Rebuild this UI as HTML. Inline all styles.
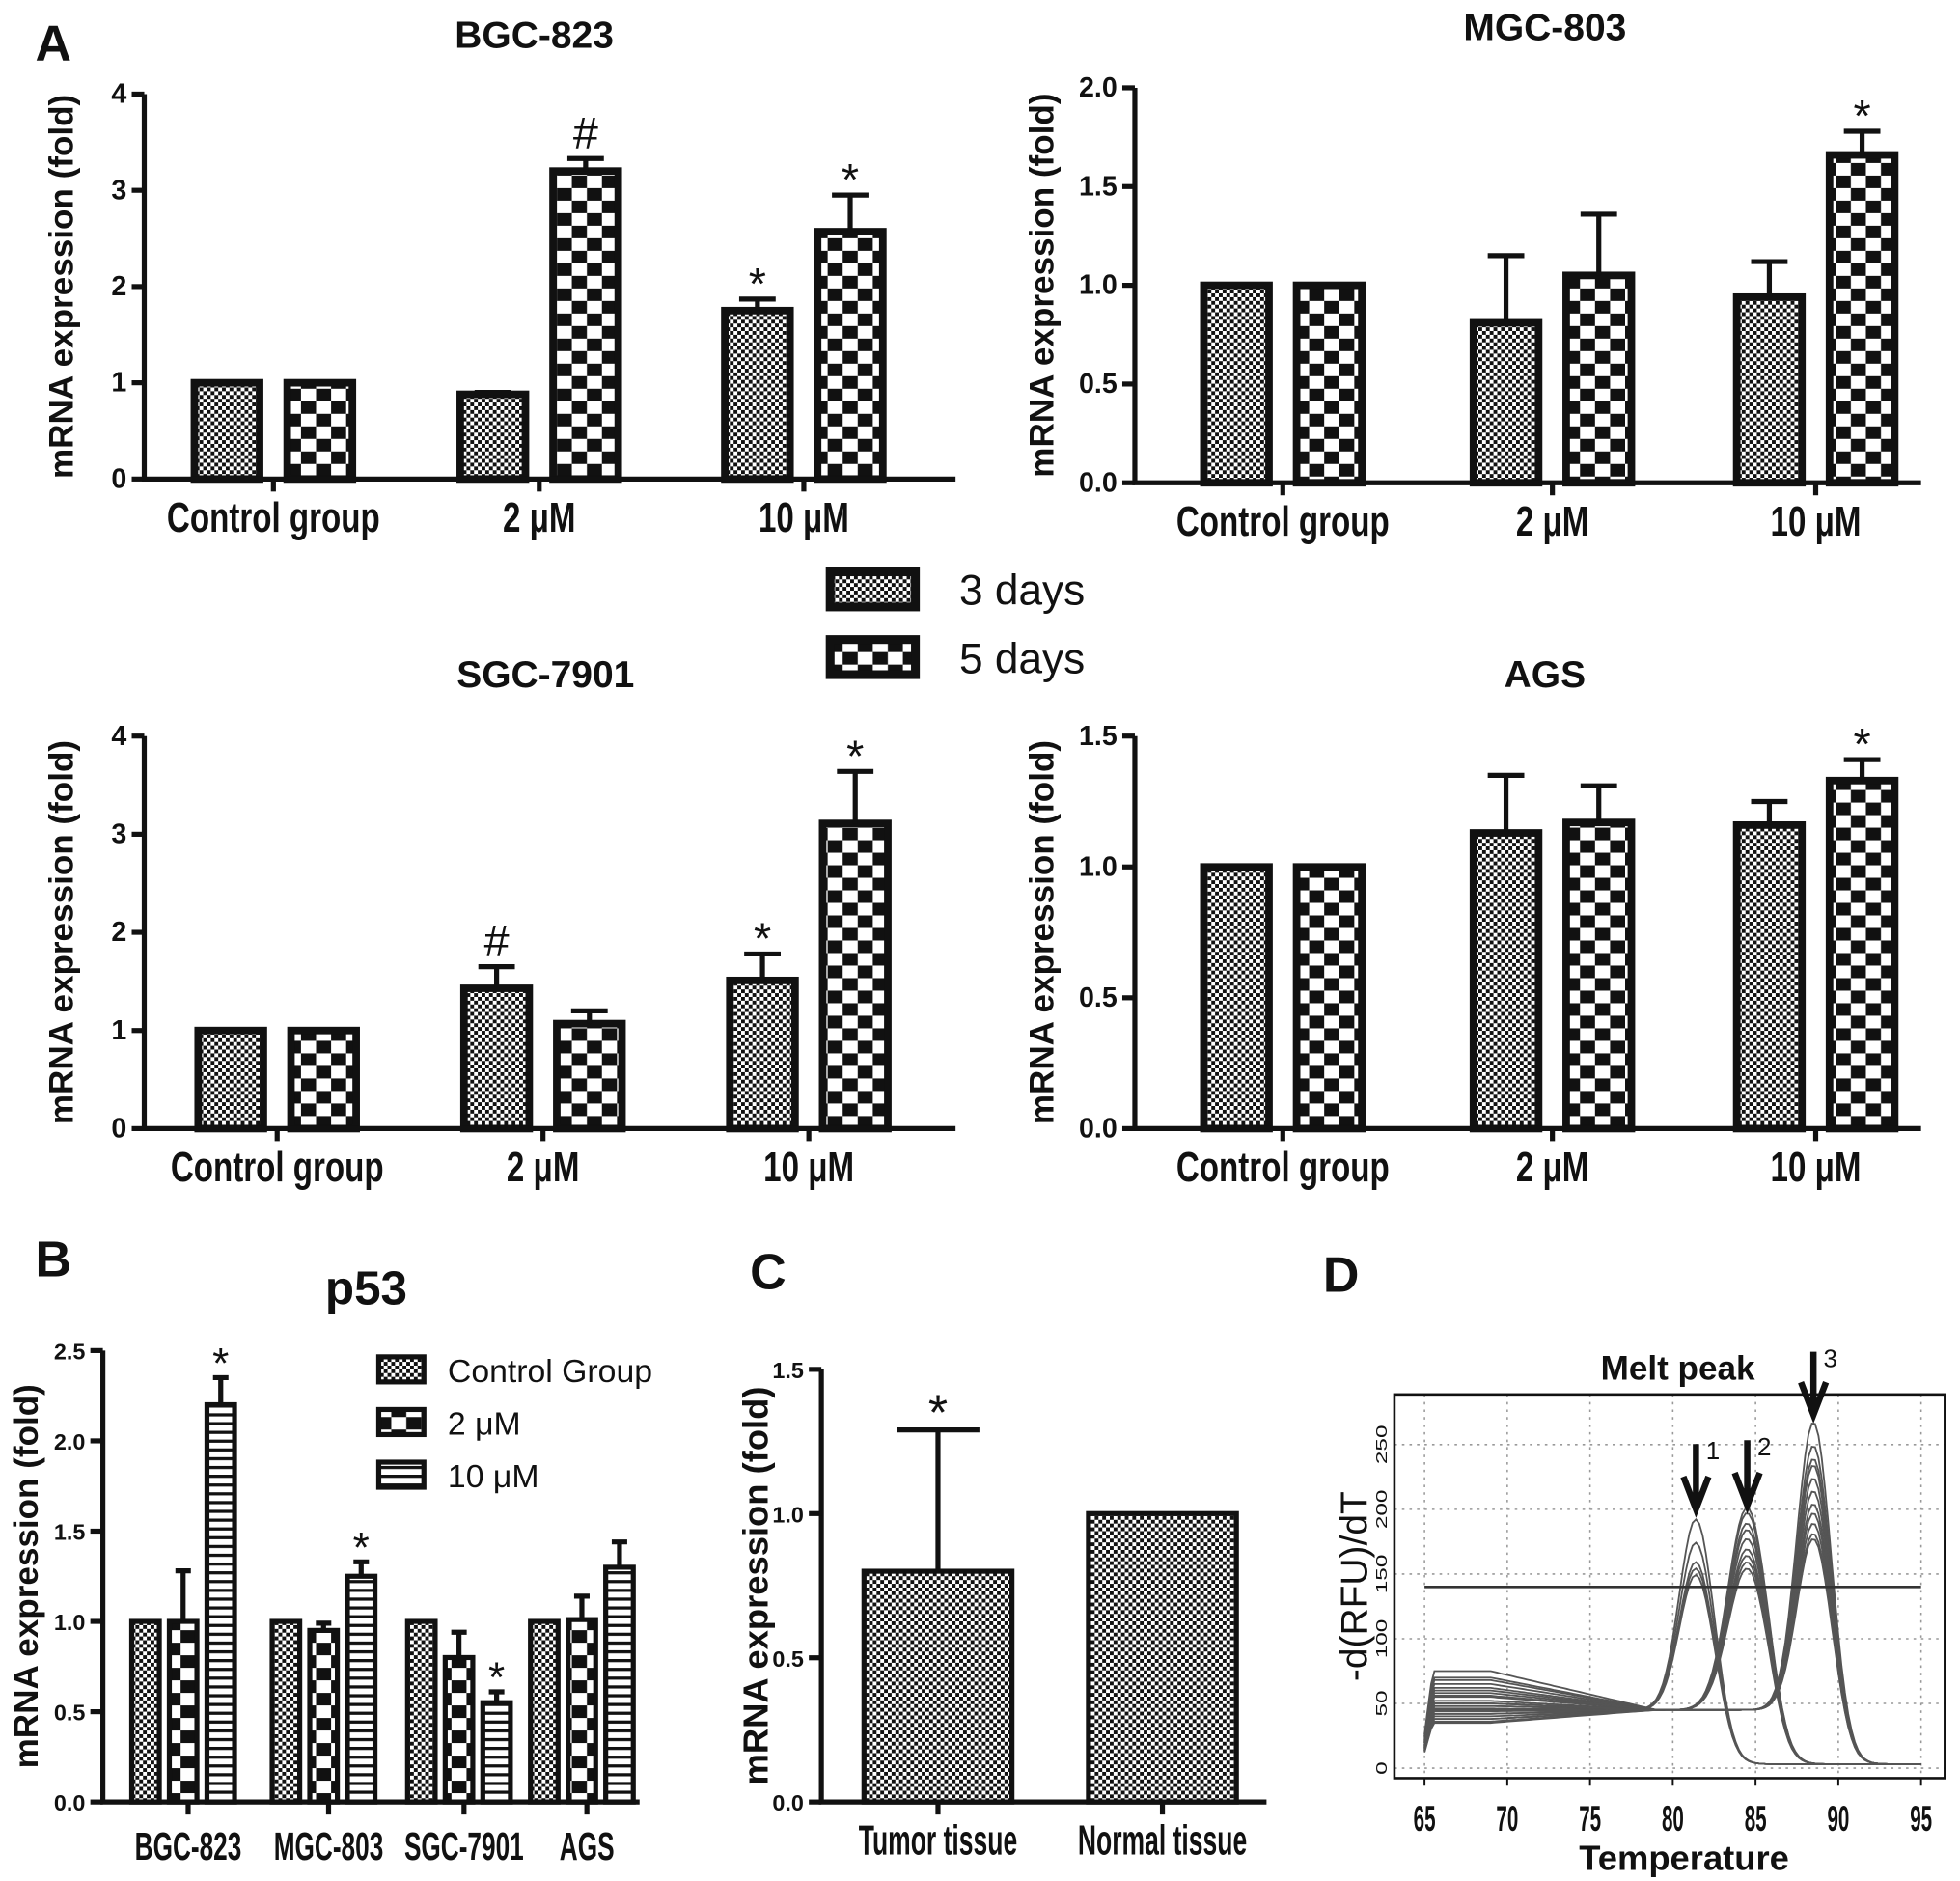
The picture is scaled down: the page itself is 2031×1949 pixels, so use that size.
<!DOCTYPE html>
<html><head><meta charset="utf-8"><style>
html,body{margin:0;padding:0;background:#fff;overflow:hidden}
svg{display:block}
text{font-family:"Liberation Sans",sans-serif;fill:#111}
.n{font-family:"Liberation Sans Narrow","Liberation Sans",sans-serif}
</style></head><body>
<svg id="fig" xmlns="http://www.w3.org/2000/svg" width="2031" height="1949" viewBox="0 0 1563 1500">
<defs>
<pattern id="p3" width="6" height="6" patternUnits="userSpaceOnUse"><rect width="6" height="6" fill="#fff"/><rect width="3" height="3" fill="#111"/><rect x="3" y="3" width="3" height="3" fill="#111"/></pattern>
<pattern id="p5" width="24" height="20" patternUnits="userSpaceOnUse"><rect width="24" height="20" fill="#fff"/><rect width="12" height="10" fill="#111"/><rect x="12" y="10" width="12" height="10" fill="#111"/></pattern>
<pattern id="p10" width="6" height="7" patternUnits="userSpaceOnUse"><rect width="6" height="7" fill="#fff"/><rect width="6" height="2.5" fill="#111"/></pattern>
</defs>
<g id="root"></g>
<text x="28" y="48" font-size="40" font-weight="bold">A</text>
<text x="28" y="1018" font-size="40" font-weight="bold">B</text>
<text x="598" y="1028" font-size="40" font-weight="bold">C</text>
<text x="1055" y="1030" font-size="40" font-weight="bold">D</text>
<g>
<rect x="662" y="456" width="68" height="28" fill="url(#p3)" stroke="#111" stroke-width="7"/>
<text x="765" y="482" font-size="34">3 days</text>
<rect x="662" y="510" width="68" height="28" fill="url(#p5)" stroke="#111" stroke-width="7"/>
<text x="765" y="537" font-size="34">5 days</text>
</g>
<g>
<rect x="302" y="1082" width="36" height="20" fill="url(#p3)" stroke="#111" stroke-width="4"/>
<text x="357" y="1102" font-size="26">Control Group</text>
<rect x="302" y="1124" width="36" height="20" fill="url(#p5)" stroke="#111" stroke-width="4"/>
<text x="357" y="1144" font-size="26">2 μM</text>
<rect x="302" y="1166" width="36" height="20" fill="url(#p10)" stroke="#111" stroke-width="4"/>
<text x="357" y="1186" font-size="26">10 μM</text>
</g>
</svg>
<script>
// ---- Data: panel A ----
const groupsA = ["Control group", "2 μM", "10 μM"];
const bgc3 = [1, 0.88, 1.75], bgc3e = [0, 0.02, 0.12], bgc5 = [1, 3.2, 2.57], bgc5e = [0, 0.13, 0.38];
const bgcMarks3 = ["", "", "*"], bgcMarks5 = ["", "#", "*"];
const mgc3 = [1, 0.81, 0.94], mgc3e = [0, 0.34, 0.18], mgc5 = [1, 1.05, 1.66], mgc5e = [0, 0.31, 0.12];
const mgcMarks3 = ["", "", ""], mgcMarks5 = ["", "", "*"];
const sgc3 = [1, 1.43, 1.51], sgc3e = [0, 0.22, 0.27], sgc5 = [1, 1.07, 3.11], sgc5e = [0, 0.13, 0.53];
const sgcMarks3 = ["", "#", "*"], sgcMarks5 = ["", "", "*"];
const ags3 = [1, 1.13, 1.16], ags3e = [0, 0.22, 0.09], ags5 = [1, 1.17, 1.33], ags5e = [0, 0.14, 0.08];
const agsMarks3 = ["", "", ""], agsMarks5 = ["", "", "*"];
const ticks4 = ["0", "1", "2", "3", "4"];
const ticks2 = ["0.0", "0.5", "1.0", "1.5", "2.0"];
const ticks15 = ["0.0", "0.5", "1.0", "1.5"];
// ---- Data: panel B ----
const cellsB = ["BGC-823", "MGC-803", "SGC-7901", "AGS"];
const p53ctrl = [1, 1, 1, 1], p53ctrlE = [0, 0, 0, 0];
const p53two = [1, 0.95, 0.8, 1.01], p53twoE = [0.28, 0.04, 0.14, 0.13];
const p53ten = [2.2, 1.25, 0.55, 1.3], p53tenE = [0.15, 0.08, 0.06, 0.14];
const p53Marks = ["*", "*", "*", ""];
const ticksB = ["0.0", "0.5", "1.0", "1.5", "2.0", "2.5"];
// ---- Data: panel C ----
const tissues = ["Tumor tissue", "Normal tissue"];
const tissueVals = [0.8, 1.0], tissueErr = [0.49, 0];
const tissueMarks = ["*", ""];
const ticksC = ["0.0", "0.5", "1.0", "1.5"];
// ---- Data: panel D ----
const tempTicks = ["65", "70", "75", "80", "85", "90", "95"];
const rfuTicks = ["0", "50", "100", "150", "200", "250"];
const peak1Amp = [193, 175, 160, 155, 150];
const peak1Base = [48, 42, 38, 52, 45];
const peak2Amp = [202, 198, 190, 185, 178, 170, 165, 160, 155];
const peak2Base = [60, 55, 50, 45, 40, 36, 70, 65, 48];
const peak3Amp = [268, 250, 240, 235, 225, 215, 205, 198, 190, 182, 178];
const peak3Base = [75, 68, 62, 56, 50, 46, 42, 38, 35, 58, 44];
const peakCenters = [81.4, 84.5, 88.5];
const threshold = 140;

const NS = "http://www.w3.org/2000/svg";
const root = document.getElementById("root");
function mk(tag, attrs, parent, txt) {
  const e = document.createElementNS(NS, tag);
  for (const k in attrs) e.setAttribute(k, attrs[k]);
  if (txt !== undefined) e.textContent = txt;
  (parent || root).appendChild(e);
  return e;
}

function barChart(o) {
  const g = mk("g", {});
  
  
  const max = o.ymax;
  const y = v => o.y0 - (v / max) * (o.y0 - o.y1);
  if (o.title) {
    const t = mk("text", {x: o.titleX, y: o.titleY, "font-size": o.titleSize || 30, "font-weight": "bold", "text-anchor": "middle"}, g, o.title);
    
    
  }
  const yl = mk("text", {transform: `translate(${o.ylX},${(o.y0 + o.y1) / 2}) rotate(-90)`, "font-size": o.ylSize || 27, "font-weight": "bold", "text-anchor": "middle"}, g, "mRNA expression (fold)");
  
  
  o.series.forEach((s, si) => {
    s.vals.forEach((v, i) => {
      const cx = o.gx[i] + o.offs[si];
      const top = y(v);
      const r = mk("rect", {x: cx - o.bw / 2, y: top, width: o.bw, height: o.y0 - top, fill: `url(#${s.pat})`, stroke: "#111", "stroke-width": o.bsw || 6}, g);
      
      
      const e = s.err[i];
      if (e > 0) {
        const ln = mk("path", {d: `M${cx},${top} V${y(v + e)} M${cx - o.bw * 0.28},${y(v + e)} H${cx + o.bw * 0.28}`, stroke: "#111", "stroke-width": 4, fill: "none"}, g);
        
        
      }
      const m = s.marks ? s.marks[i] : "";
      if (m) {
        const mt = mk("text", {x: cx, y: y(v + e) - (m === "#" ? 8 : 0), "font-size": o.markSize || 36, "text-anchor": "middle"}, g, m);
        
        
      }
    });
  });
  const ax = mk("path", {d: `M${o.x0},${o.y1} V${o.y0} H${o.x1}`, stroke: "#111", "stroke-width": 4, fill: "none"}, g);
  
  
  o.ticks.forEach((t, i) => {
    const v = i * o.tstep, ty = y(v);
    mk("line", {x1: o.x0 - 10, x2: o.x0, y1: ty, y2: ty, stroke: "#111", "stroke-width": 4}, g);
    const tt = mk("text", {x: o.x0 - 14, y: ty + 7, "font-size": o.tickSize || 22, "font-weight": "bold", "text-anchor": "end"}, g, t);
    
    
  });
  o.cats.forEach((c, i) => {
    mk("line", {x1: o.gx[i], x2: o.gx[i], y1: o.y0, y2: o.y0 + 10, stroke: "#111", "stroke-width": 4}, g);
    const sx = o.catSx || 0.85;
    const ct = mk("text", {x: 0, y: 0, "font-size": o.catSize || 30, "font-weight": "bold", "text-anchor": "middle", class: "n", transform: `translate(${o.gx[i]},${o.y0 + (o.catDy || 42)}) scale(${sx},1.12)`}, g, c);
    
    
  });
}

const aCommon = {cats: groupsA, offs: [-37, 37], bw: 52};
barChart(Object.assign({}, aCommon, {name: "chart-bgc-823", title: "BGC-823", titleX: 426, titleY: 38, ylX: 58, x0: 115, x1: 762, y0: 382, y1: 75, ymax: 4, tstep: 1, ticks: ticks4, gx: [218, 430, 641],
  series: [{key: "3d", pat: "p3", vals: bgc3, err: bgc3e, marks: bgcMarks3}, {key: "5d", pat: "p5", vals: bgc5, err: bgc5e, marks: bgcMarks5}]}));
barChart(Object.assign({}, aCommon, {name: "chart-mgc-803", title: "MGC-803", titleX: 1232, titleY: 32, ylX: 840, x0: 905, x1: 1532, y0: 385, y1: 70, ymax: 2, tstep: 0.5, ticks: ticks2, gx: [1023, 1238, 1448],
  series: [{key: "3d", pat: "p3", vals: mgc3, err: mgc3e, marks: mgcMarks3}, {key: "5d", pat: "p5", vals: mgc5, err: mgc5e, marks: mgcMarks5}]}));
barChart(Object.assign({}, aCommon, {name: "chart-sgc-7901", title: "SGC-7901", titleX: 435, titleY: 548, ylX: 58, x0: 115, x1: 762, y0: 900, y1: 587, ymax: 4, tstep: 1, ticks: ticks4, gx: [221, 433, 645],
  series: [{key: "3d", pat: "p3", vals: sgc3, err: sgc3e, marks: sgcMarks3}, {key: "5d", pat: "p5", vals: sgc5, err: sgc5e, marks: sgcMarks5}]}));
barChart(Object.assign({}, aCommon, {name: "chart-ags", title: "AGS", titleX: 1232, titleY: 548, ylX: 840, x0: 905, x1: 1532, y0: 900, y1: 587, ymax: 1.5, tstep: 0.5, ticks: ticks15, gx: [1023, 1238, 1448],
  series: [{key: "3d", pat: "p3", vals: ags3, err: ags3e, marks: agsMarks3}, {key: "5d", pat: "p5", vals: ags5, err: ags5e, marks: agsMarks5}]}));
barChart({name: "chart-p53", title: "p53", titleX: 292, titleY: 1040, titleSize: 38, ylX: 30, ylSize: 27, x0: 82, x1: 510, y0: 1437, y1: 1077, ymax: 2.5, tstep: 0.5, ticks: ticksB, tickSize: 18,
  cats: cellsB, gx: [150, 262, 370, 468], offs: [-34, -4, 26], bw: 22, bsw: 4, catDy: 46, catSize: 28, catSx: 0.72, markSize: 34,
  series: [{key: "control", pat: "p3", vals: p53ctrl, err: p53ctrlE}, {key: "2um", pat: "p5", vals: p53two, err: p53twoE}, {key: "10um", pat: "p10", vals: p53ten, err: p53tenE, marks: p53Marks}]});
barChart({name: "chart-tissue", ylX: 612, ylSize: 28, x0: 655, x1: 1010, y0: 1437, y1: 1092, ymax: 1.5, tstep: 0.5, ticks: ticksC, tickSize: 18,
  cats: tissues, gx: [748, 927], offs: [0], bw: 118, bsw: 4, catDy: 42, catSize: 30, catSx: 0.68, markSize: 40,
  series: [{key: "tissue", pat: "p3", vals: tissueVals, err: tissueErr, marks: tissueMarks}]});

// ---- Panel D melt peak ----
(function () {
  const g = mk("g", {});
  
  
  const bx0 = 1112, bx1 = 1551, by0 = 1418, by1 = 1112;
  const X = t => 1136 + (t - 65) / 30 * (1532 - 1136);
  const Y = v => 1410 - v / 250 * (1410 - 1152);
  tempTicks.forEach(t => {
    const x = X(+t);
    mk("line", {x1: x, x2: x, y1: by1, y2: by0, stroke: "#999", "stroke-width": 1.2, "stroke-dasharray": "2,4"}, g);
    mk("line", {x1: x, x2: x, y1: by0, y2: by0 + 6, stroke: "#111", "stroke-width": 1.5}, g);
    const tt = mk("text", {x: 0, y: 0, "font-size": 22, "font-weight": "bold", "text-anchor": "middle", class: "n", transform: `translate(${x},${by0 + 42}) scale(0.72,1.3)`}, g, t);
    
    
  });
  rfuTicks.forEach(t => {
    const y = Y(+t);
    mk("line", {x1: bx0, x2: bx1, y1: y, y2: y, stroke: "#999", "stroke-width": 1.2, "stroke-dasharray": "2,4"}, g);
    const tt = mk("text", {transform: `translate(${bx0 - 6},${y}) rotate(-90) scale(1.25,0.8)`, "font-size": 15, "text-anchor": "middle", class: "n"}, g, t);
    
    
  });
  function curve(amp, base, c, w, k) {
    let d = "";
    for (let t = 65; t <= 95.001; t += 0.2) {
      let b = t < 69 ? base : t < 79 ? base + (45 - base) * (t - 69) / 10 : 45;
      if (t < 65.5) b = b * (0.35 + (t - 65) * 1.3);
      const drop = 1 / (1 + Math.exp(-(t - c - 1.8) / 0.45));
      const base2 = b * (1 - drop) + 3 * drop;
      const gs = (amp - 45) * Math.exp(-Math.pow((t - c) / w, 2) / 2);
      const v = base2 + gs;
      d += (d ? "L" : "M") + X(t).toFixed(1) + "," + Y(v).toFixed(1);
    }
    const p = mk("path", {d: d, fill: "none", stroke: "#555", "stroke-width": 1.4}, g);
    
    
  }
  peak1Amp.forEach((a, i) => curve(a, peak1Base[i], peakCenters[0], 1.0, "1-" + i));
  peak2Amp.forEach((a, i) => curve(a, peak2Base[i], peakCenters[1], 1.15, "2-" + i));
  peak3Amp.forEach((a, i) => curve(a, peak3Base[i], peakCenters[2], 1.0, "3-" + i));
  const th = mk("line", {x1: X(65), x2: X(95), y1: Y(threshold), y2: Y(threshold), stroke: "#333", "stroke-width": 2}, g);
  
  
  const bx = mk("rect", {x: bx0, y: by1, width: bx1 - bx0, height: by0 - by1, fill: "none", stroke: "#111", "stroke-width": 2}, g);
  
  
  const tl = mk("text", {x: 1338, y: 1100, "font-size": 27, "font-weight": "bold", "text-anchor": "middle"}, g, "Melt peak");
  
  
  const xt = mk("text", {x: 1343, y: 1491, "font-size": 28, "font-weight": "bold", "text-anchor": "middle"}, g, "Temperature");
  
  
  const yt = mk("text", {transform: `translate(1090,1265) rotate(-90)`, "font-size": 30, "text-anchor": "middle"}, g, "-d(RFU)/dT");
  
  
  [[81.4, 200, 0, "1"], [84.5, 203, 0, "2"], [88.5, 273, 1078, "3"]].forEach((a, i) => {
    const x = X(a[0]), yb = Y(a[1]);
    const top = i === 2 ? a[2] : yb - 52;
    const ar = mk("path", {d: `M${x},${top} V${yb - 4} M${x - 10},${yb - 26} L${x},${yb} L${x + 10},${yb - 26}`, stroke: "#111", "stroke-width": 5, fill: "none"}, g);
    
    
    const lt = mk("text", {x: x + 8, y: top + 12, "font-size": 20, class: "n"}, g, a[3]);
    
    
  });
})();
</script>
</body></html>
